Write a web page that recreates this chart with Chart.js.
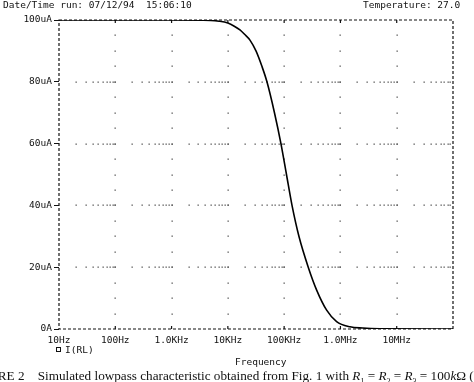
<!DOCTYPE html>
<html>
<head>
<meta charset="utf-8">
<script src="https://cdn.jsdelivr.net/npm/chart.js@4"></script>
<style>
    html, body { margin: 0; padding: 0; background: #fff; }
    #wrap { position: relative; width: 474px; height: 382px; overflow: hidden; }
    #wrap canvas { position: absolute; left: 0; top: 0; }
    .mono { position: absolute; font-family: "DejaVu Sans Mono", monospace; font-size: 9.5px; color: #111; white-space: nowrap; line-height: 1; }
    .caption { position: absolute; font-family: "Liberation Serif", serif; font-size: 13.2px; color: #111; white-space: nowrap; line-height: 1; }
    .marker { display: inline-block; width: 3px; height: 3px; border: 1px solid #111; margin-right: 4px; vertical-align: 1px; }
</style>
</head>
<body>
<div id="wrap">
    <canvas id="chart" width="474" height="382"></canvas>
    <div class="mono" style="left:3px; top:0px;">Date/Time run: 07/12/94&nbsp;&nbsp;15:06:10</div>
    <div class="mono" style="left:363px; top:0px;">Temperature: 27.0</div>
    <div class="mono" style="left:56px; top:345px;"><span class="marker"></span>I(RL)</div>
    <div class="mono" style="left:235px; top:357px;">Frequency</div>
    <div class="caption" style="left:-33px; top:369px;">FIGURE 2&nbsp;&nbsp;&nbsp;&nbsp;Simulated lowpass characteristic obtained from Fig. 1 with <i>R</i><sub style="font-size:8px">1</sub> = <i>R</i><sub style="font-size:8px">2</sub> = <i>R</i><sub style="font-size:8px">3</sub> = 100<i>k</i>&Omega; (</div>
</div>
<script>
// Frequency sweep (Hz) and current through RL (uA)
const freqs = [10, 1000, 5000, 7000, 10000, 13000, 16400, 20000, 24700, 31600, 40300, 49500, 67300,
               87700, 110000, 138000, 183000, 268000, 378000, 569000, 855000, 1480000, 2500000, 5000000, 100000000];
const currentUA = [100, 100, 99.85, 99.6, 99.0, 98.0, 96.8, 95.3, 93.5, 90, 85, 80, 70,
                   60, 50, 40, 30, 20, 12.6, 6.1, 2.4, 0.7, 0.3, 0.1, 0];

const xTicks = [10, 100, 1000, 10000, 100000, 1000000, 10000000, 100000000];
const xTickLabels = ['10Hz', '100Hz', '1.0KHz', '10KHz', '100KHz', '1.0MHz', '10MHz', ''];
const yTicks = [0, 20, 40, 60, 80, 100];
const yTickLabels = ['0A', '20uA', '40uA', '60uA', '80uA', '100uA'];

const tickFont = { family: 'DejaVu Sans Mono', size: 9.5 };

// dotted grid + dashed frame, like the old plotter output
const plotterGrid = {
    id: 'plotterGrid',
    beforeDatasetsDraw(chart) {
        const { ctx, chartArea: a, scales: { x, y } } = chart;
        ctx.save();
        ctx.fillStyle = '#555';
        // dots along the decade lines, every 5uA
        xTicks.slice(1, -1).forEach(f => {
            const px = x.getPixelForValue(f);
            for (let v = 5; v < 100; v += 5) {
                ctx.fillRect(Math.round(px) - 0.5, Math.round(y.getPixelForValue(v)) - 0.5, 1.3, 1.3);
            }
        });
        // dots along the 20uA lines, at 1..9 x decade
        yTicks.slice(1, -1).forEach(v => {
            const py = y.getPixelForValue(v);
            for (let d = 10; d < 1e8; d *= 10) {
                for (let k = 1; k < 10; k++) {
                    if (k === 1 && d === 10) continue;
                    const px = x.getPixelForValue(k * d);
                    ctx.fillRect(Math.round(px) - 0.5, Math.round(py) - 0.5, 1.3, 1.3);
                }
            }
        });
        // frame
        ctx.strokeStyle = '#111';
        ctx.lineWidth = 1.2;
        ctx.setLineDash([3, 2]);
        ctx.strokeRect(a.left, a.top, a.right - a.left, a.bottom - a.top);
        ctx.setLineDash([]);
        // small ticks at decades on top and bottom
        xTicks.slice(1, -1).forEach(f => {
            const px = x.getPixelForValue(f);
            ctx.beginPath();
            ctx.moveTo(px, a.bottom); ctx.lineTo(px, a.bottom - 3);
            ctx.moveTo(px, a.top); ctx.lineTo(px, a.top + 3);
            ctx.stroke();
        });
        ctx.restore();
    }
};

new Chart(document.getElementById('chart'), {
    type: 'line',
    data: {
        datasets: [{
            label: 'I(RL)',
            data: freqs.map((f, i) => ({ x: f, y: currentUA[i] })),
            borderColor: '#000',
            borderWidth: 1.6,
            pointRadius: 0,
            cubicInterpolationMode: 'monotone',
            fill: false
        }]
    },
    options: {
        responsive: false,
        animation: false,
        events: [],
        layout: { padding: { left: 0, top: 20, right: 21, bottom: 0 } },
        plugins: {
            legend: { display: false },
            tooltip: { enabled: false }
        },
        scales: {
            x: {
                type: 'logarithmic',
                min: 10,
                max: 100000000,
                afterBuildTicks(scale) {
                    scale.ticks = xTicks.map(v => ({ value: v }));
                },
                afterFit(scale) { scale.height = 53; },
                grid: { display: false },
                border: { display: false },
                ticks: {
                    autoSkip: false,
                    maxRotation: 0,
                    padding: -2,
                    color: '#111',
                    font: tickFont,
                    callback: (v, i) => xTickLabels[i]
                }
            },
            y: {
                min: 0,
                max: 100,
                afterBuildTicks(scale) {
                    scale.ticks = yTicks.map(v => ({ value: v }));
                },
                afterFit(scale) { scale.width = 59; },
                grid: { drawOnChartArea: false, drawTicks: true, tickLength: 5, color: '#111', lineWidth: 1 },
                border: { display: false },
                ticks: {
                    padding: 2,
                    color: '#111',
                    font: tickFont,
                    callback: (v, i) => yTickLabels[i]
                }
            }
        }
    },
    plugins: [plotterGrid]
});
</script>
</body>
</html>
